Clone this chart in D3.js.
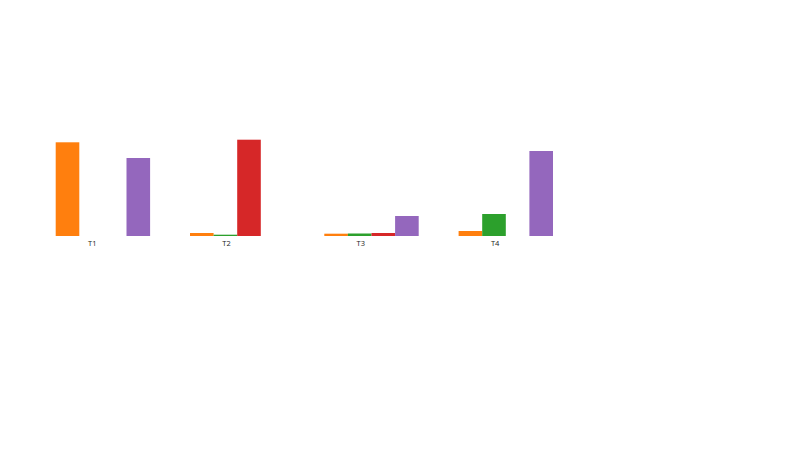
<!DOCTYPE html>
<html>

<head>
    <meta charset="utf-8">
    <style>
        body { margin: 0; background: #fff; }
        .axis text { font-family: "Open Sans", sans-serif; font-size: 7.5px; fill: #222; }
    </style>
</head>

<body>
    <div id="vizDiv"></div>

    <script src="https://d3js.org/d3.v7.min.js"></script>
    <script>
        // chart data
        const groups = ["T1", "T2", "T3", "T4"];
        const seriesNames = ["A", "B", "C", "D"];
        const seriesColors = ["#ff7f0e", "#2ca02c", "#d62728", "#9467bd"];

        const valuesA = [93.7, 3, 2.3, 5];
        const valuesB = [0, 1.3, 2.5, 22];
        const valuesC = [0, 96.3, 3, 0];
        const valuesD = [78, 0, 20, 85];
        const allValues = [valuesA, valuesB, valuesC, valuesD];

        const width = 800, height = 450;
        const baseY = 236;

        const svg = d3
            .select("#vizDiv")
            .append('svg')
            .attr('width', width)
            .attr('height', height);

        // groups are 134.3px apart, label sits 36px into each group
        const x0 = d3.scaleBand()
            .domain(groups)
            .range([55.7, 55.7 + 134.3 * 4])
            .paddingInner(0)
            .paddingOuter(0);

        const x1 = d3.scaleBand()
            .domain(seriesNames)
            .range([0, 94.4]);

        const y = d3.scaleLinear()
            .domain([0, 100])
            .range([baseY, baseY - 100]);

        const rows = groups.map((g, i) => ({
            group: g,
            vals: seriesNames.map((s, j) => ({ series: s, value: allValues[j][i], color: seriesColors[j] }))
        }));

        const groupG = svg.selectAll('g.grp')
            .data(rows)
            .enter()
            .append('g')
            .attr('class', 'grp')
            .attr('transform', d => `translate(${x0(d.group)},0)`);

        groupG.selectAll('rect')
            .data(d => d.vals.filter(v => v.value > 0))
            .enter()
            .append('rect')
            .attr('x', d => x1(d.series))
            .attr('width', x1.bandwidth())
            .attr('y', d => y(d.value))
            .attr('height', d => y(0) - y(d.value))
            .style('fill', d => d.color);

        // x axis labels (no line, no ticks)
        const labelScale = d3.scalePoint()
            .domain(groups)
            .range([x0("T1") + 36, x0("T4") + 36]);

        const xAxis = svg.append('g')
            .attr('class', 'axis')
            .attr('transform', `translate(0,${baseY})`)
            .call(d3.axisBottom(labelScale).tickSize(0).tickPadding(5));

        xAxis.select('.domain').remove();
        xAxis.selectAll('text').attr('font-size', null).attr('font-family', null);
    </script>
</body>

</html>
